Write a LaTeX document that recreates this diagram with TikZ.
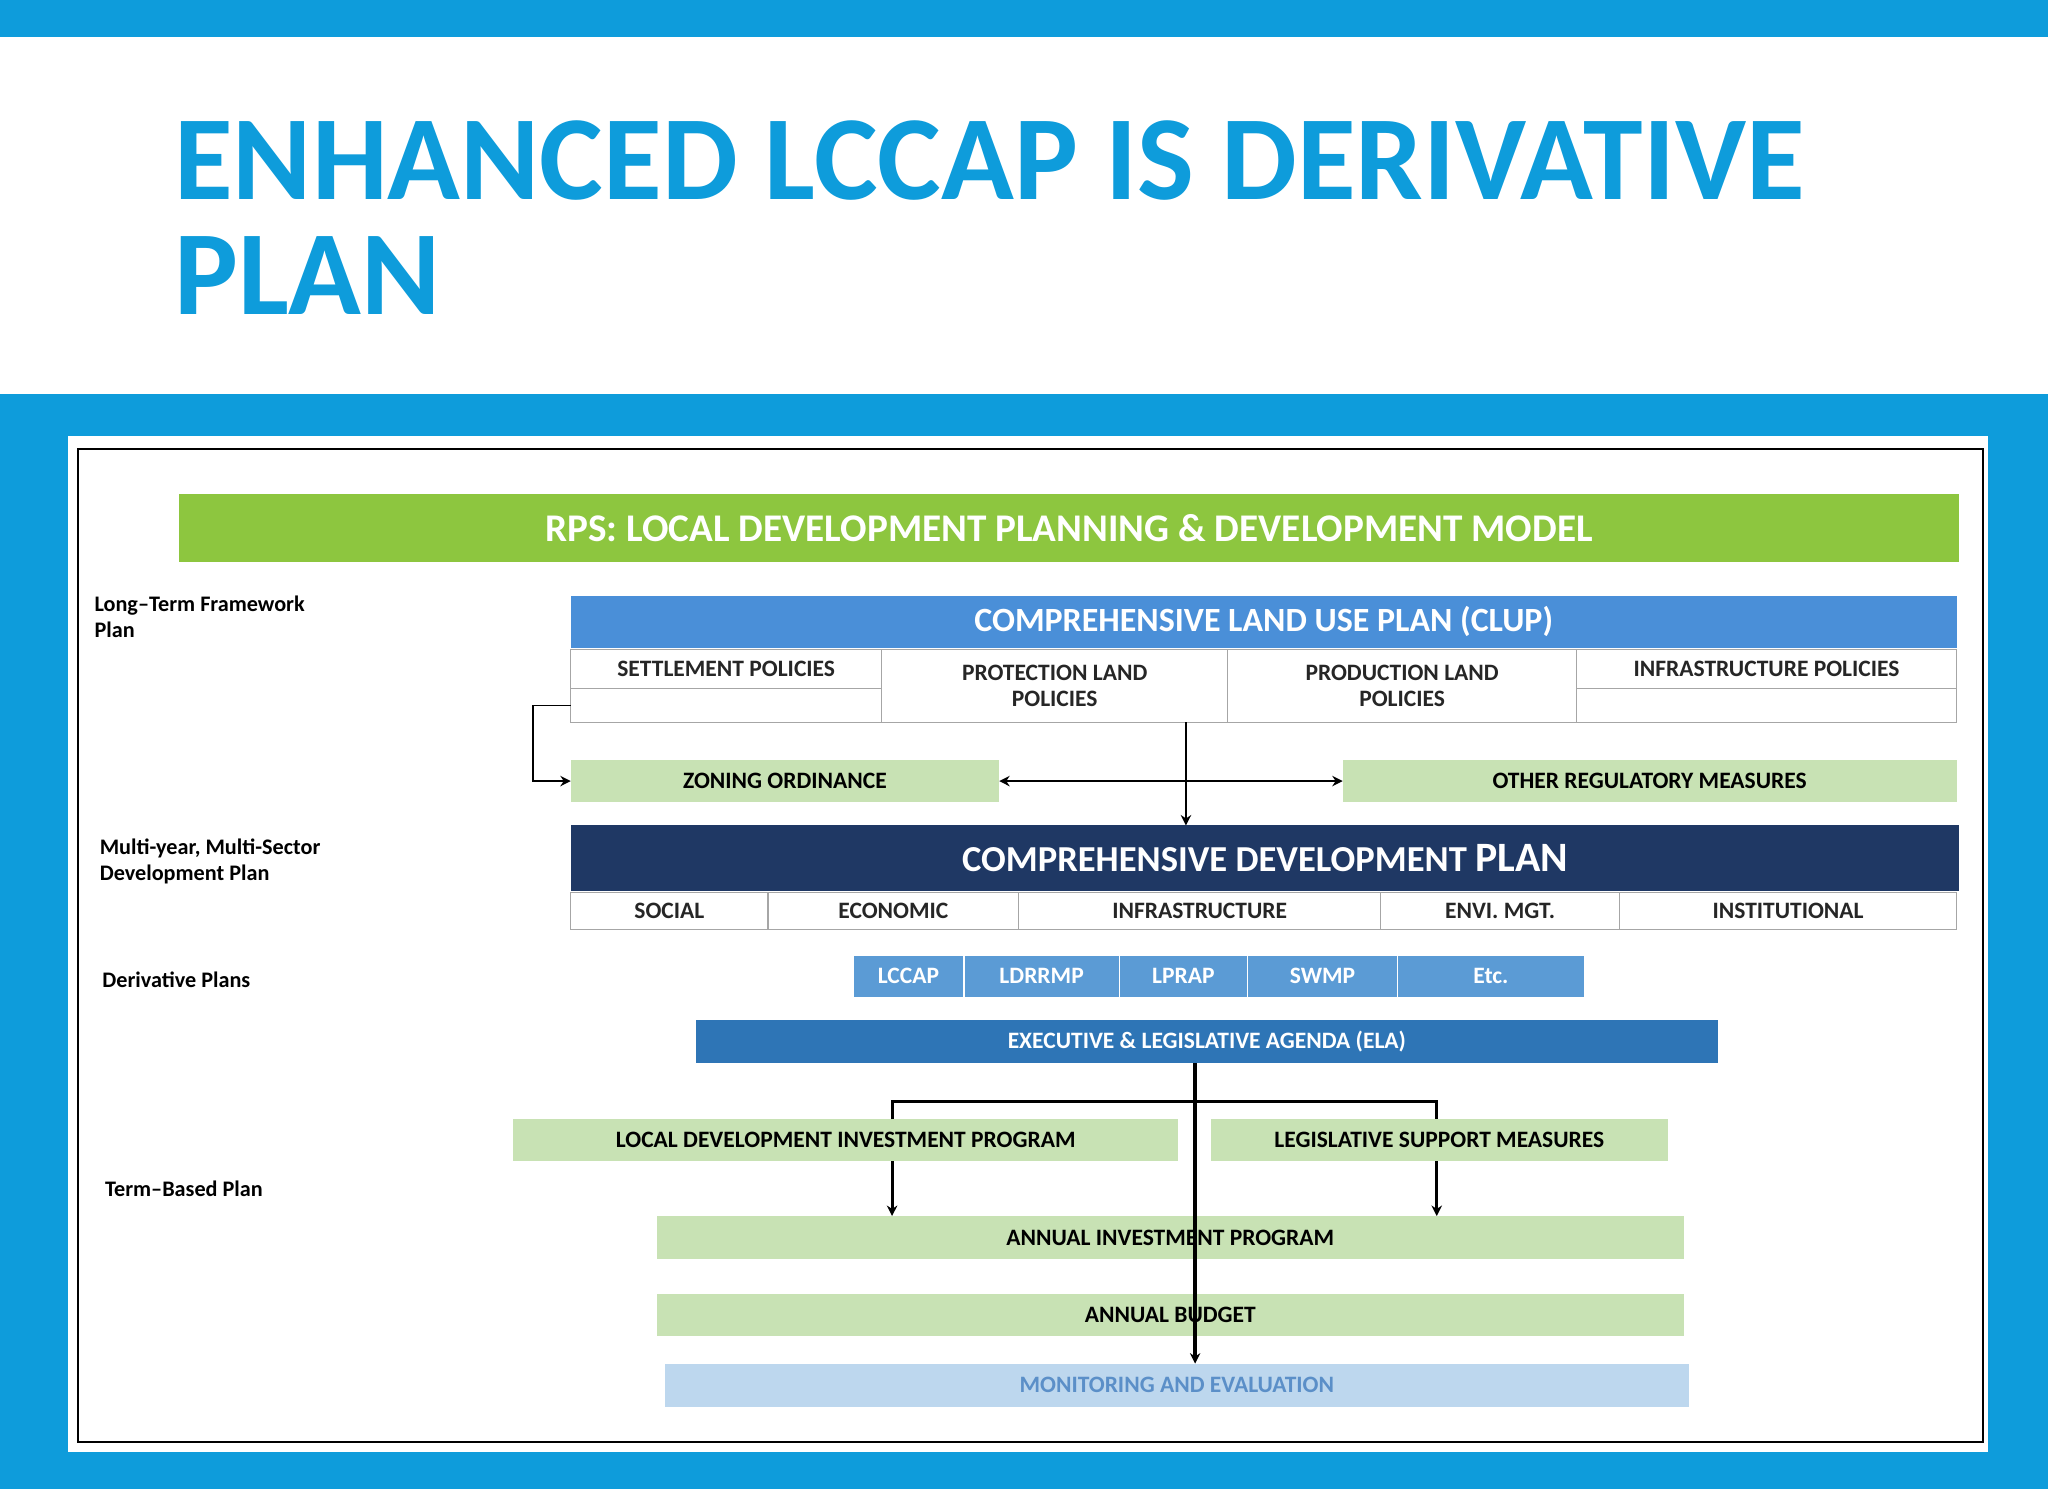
\documentclass[tikz,border=0pt]{standalone}
\usepackage{fontspec}
\setmainfont{Carlito}
\usetikzlibrary{arrows.meta}
\definecolor{topblue}{HTML}{0E9CDB}
\definecolor{hdrgreen}{HTML}{8DC63F}
\definecolor{ltgreen}{HTML}{C8E2B4}
\definecolor{clupblue}{HTML}{4A8FD8}
\definecolor{navy}{HTML}{1F3864}
\definecolor{derblue}{HTML}{5B9BD5}
\definecolor{elablue}{HTML}{2E75B6}
\definecolor{mebg}{HTML}{BDD7EE}
\definecolor{metxt}{HTML}{5B8FC8}
\newcommand{\bx}[7]{\node[#6, minimum width={(#4-#2)*0.5pt}, minimum height={(#5-#3)*0.5pt}] (#1) at ({(#2+#4)/2},{(#3+#5)/2}) {#7};}
\tikzset{
 base/.style={inner sep=0pt, outer sep=0pt, align=center, font=\bfseries\fontsize{9}{10}\selectfont},
 gbox/.style={base, fill=ltgreen},
 cell/.style={base, draw=gray!70, line width=0.4pt, text=black!85},
 lbl/.style={inner sep=0pt, anchor=north west, align=left, font=\bfseries\fontsize{8.5}{10}\selectfont},
 conn/.style={line width=1.2pt, black},
 tip/.style={-{Stealth[length=4pt,width=4pt]}},
}
\begin{document}
\begin{tikzpicture}[x=0.5pt,y=-0.5pt]
\useasboundingbox (0,0) rectangle (1568,1140);
\fill[white] (0,0) rectangle (1568,1140);
\fill[topblue] (0,0) rectangle (1568,28);
\fill[topblue] (0,302) rectangle (1568,1140);
\node[inner sep=0pt, anchor=north west, align=left, text=topblue, font=\bfseries\fontsize{46}{44}\selectfont] (title) at (133,92) {ENHANCED LCCAP IS DERIVATIVE\\PLAN};
\fill[white] (52,334) rectangle (1522,1112);
\draw[black, line width=0.8pt] (60,344) rectangle (1518,1104);
\bx{hdr}{137}{378}{1500}{430}{base, fill=hdrgreen, text=white, font=\bfseries\fontsize{15}{16}\selectfont}{RPS: LOCAL DEVELOPMENT PLANNING \& DEVELOPMENT MODEL}
\node[lbl] (l1) at (72,456) {Long–Term Framework\\Plan};
\node[lbl] (l2) at (76,642) {Multi-year, Multi-Sector\\Development Plan};
\node[lbl] (l3) at (78,744) {Derivative Plans};
\node[lbl] (l4) at (80,904) {Term–Based Plan};
\bx{clup}{437}{456}{1498}{496}{base, fill=clupblue, text=white, font=\bfseries\fontsize{13}{14}\selectfont}{COMPREHENSIVE LAND USE PLAN (CLUP)}
\bx{sp}{437}{497}{675}{527}{cell}{SETTLEMENT POLICIES}
\bx{spb}{437}{527}{675}{553}{cell}{}
\bx{pp}{675}{497}{940}{553}{cell}{PROTECTION LAND\\POLICIES}
\bx{pd}{940}{497}{1207}{553}{cell}{PRODUCTION LAND\\POLICIES}
\bx{ip}{1207}{497}{1498}{527}{cell}{INFRASTRUCTURE POLICIES}
\bx{ipb}{1207}{527}{1498}{553}{cell}{}
\bx{zo}{437}{582}{765}{614}{gbox}{ZONING ORDINANCE}
\bx{orm}{1028}{582}{1498}{614}{gbox}{OTHER REGULATORY MEASURES}
\bx{cdp}{437}{632}{1500}{682}{base, fill=navy, text=white, font=\bfseries\fontsize{14}{15}\selectfont}{COMPREHENSIVE DEVELOPMENT {\fontsize{16}{16}\selectfont PLAN}}
\bx{soc}{437}{683}{588}{712}{cell}{SOCIAL}
\bx{eco}{588}{683}{780}{712}{cell}{ECONOMIC}
\bx{inf}{780}{683}{1057}{712}{cell}{INFRASTRUCTURE}
\bx{env}{1057}{683}{1240}{712}{cell}{ENVI. MGT.}
\bx{ins}{1240}{683}{1498}{712}{cell}{INSTITUTIONAL}
\tikzset{dc/.style={base, fill=derblue, text=white, draw=white, line width=0.6pt}}
\bx{lccap}{653}{731}{738}{764}{dc}{LCCAP}
\bx{ldrrmp}{738}{731}{857}{764}{dc}{LDRRMP}
\bx{lprap}{857}{731}{955}{764}{dc}{LPRAP}
\bx{swmp}{955}{731}{1070}{764}{dc}{SWMP}
\bx{etc}{1070}{731}{1213}{764}{dc}{Etc.}
\bx{ela}{533}{781}{1315}{814}{base, fill=elablue, text=white}{EXECUTIVE \& LEGISLATIVE AGENDA (ELA)}
\bx{ldip}{393}{857}{902}{889}{gbox}{LOCAL DEVELOPMENT INVESTMENT PROGRAM}
\bx{lsm}{927}{857}{1277}{889}{gbox}{LEGISLATIVE SUPPORT MEASURES}
\bx{aip}{503}{931}{1289}{964}{gbox}{ANNUAL INVESTMENT PROGRAM}
\bx{ab}{503}{991}{1289}{1023}{gbox}{ANNUAL BUDGET}
\bx{me}{509}{1044}{1293}{1077}{base, fill=mebg, text=metxt}{MONITORING AND EVALUATION}
% connectors
\draw[conn, line width=0.6pt, tip] (spb.west) -- ++(-29,0) |- (zo.west);
\draw[conn, line width=0.6pt, tip] (908,553) -- (908,632);
\draw[conn, line width=0.6pt, {Stealth[length=4pt,width=4pt]}-{Stealth[length=4pt,width=4pt]}] (zo.east) -- (orm.west);
\coordinate (bl) at (683,843);
\coordinate (br) at (1100,843);
\draw[conn] (ldip.north -| bl) -- (bl) -- (br) -- (lsm.north -| br);
\draw[conn, tip] (ldip.south -| bl) -- (aip.north -| bl);
\draw[conn, tip] (lsm.south -| br) -- (aip.north -| br);
\draw[conn, line width=1.6pt, tip] (ela.south -| 915,0) -- (me.north -| 915,0);
\end{tikzpicture}
\end{document}
